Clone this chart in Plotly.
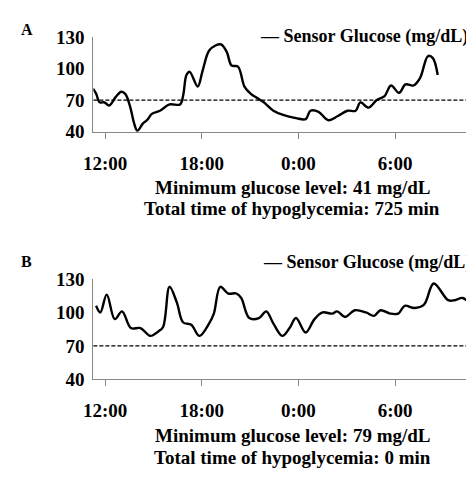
import plotly.graph_objects as go

# hours since midnight of day 1 (24 = 0:00, 30 = 6:00)
hours_a = [11.25, 11.45, 11.65, 11.95, 12.25, 12.65, 13.0, 13.25, 13.55, 13.8, 14.0, 14.35, 14.6,
           14.9, 15.4, 16.0, 16.65, 16.85, 17.05, 17.25, 17.75, 18.05, 18.45, 18.85, 19.2, 19.55,
           19.85, 20.25, 20.65, 21.05, 21.45, 21.85, 22.45, 23.05, 23.85, 24.45, 24.75, 25.25,
           25.85, 26.45, 27.05, 27.55, 27.85, 28.35, 28.85, 29.35, 29.75, 30.25, 30.65, 31.15,
           31.55, 32.05, 32.35, 32.65]
glucose_a = [81, 76, 68, 68, 65, 73, 78, 76, 64, 48, 41, 48, 51, 57, 60, 66, 66, 75, 94, 97, 83,
             98, 117, 122, 123, 116, 103, 102, 83, 76, 72, 68, 60, 56, 53, 52, 60, 59, 51, 55, 60,
             60, 68, 63, 70, 74, 84, 77, 85, 84, 91, 112, 110, 94]

hours_b = [11.44, 11.7, 12.1, 12.6, 13.05, 13.6, 14.2, 14.8, 15.3, 15.6, 16.0, 16.45, 16.85, 17.35,
           17.85, 18.45, 18.75, 19.15, 19.65, 20.15, 20.45, 20.95, 21.55, 22.0, 22.45, 23.0, 23.45,
           23.85, 24.45, 25.0, 25.5, 26.1, 26.4, 26.9, 27.5, 28.2, 28.7, 29.1, 29.7, 30.2, 30.6,
           31.2, 31.8, 32.4, 33.3, 33.7, 34.2, 34.65, 35.05]
glucose_b = [106, 100, 116, 94, 101, 86, 86, 79, 83, 87, 123, 109, 91, 89, 79, 90, 99, 123, 117,
             117, 113, 95, 95, 101, 90, 79, 86, 95, 82, 94, 100, 99, 101, 96, 102, 100, 97, 102,
             99, 99, 106, 104, 107, 126, 111, 111, 113, 108, 99]

tick_hours = [12, 18, 24, 30]
tick_labels = ["12:00", "18:00", "0:00", "6:00"]
y_ticks = [40, 70, 100, 130]
threshold = 70

FONT = "Liberation Serif"
tick_font = dict(family=FONT, size=19, color="black", weight="bold")

fig = go.Figure()
fig.add_trace(go.Scatter(x=hours_a, y=glucose_a, mode="lines", line=dict(color="black", width=2.4, shape="spline"),
                         xaxis="x", yaxis="y", showlegend=False))
fig.add_trace(go.Scatter(x=hours_b, y=glucose_b, mode="lines", line=dict(color="black", width=2.4, shape="spline"),
                         xaxis="x2", yaxis="y2", showlegend=False))

xax = dict(range=[11.27, 35.4], tickvals=tick_hours, ticktext=tick_labels, showgrid=False, zeroline=False,
           showline=True, linecolor="#888", ticks="outside", ticklen=6, tickcolor="#888",
           ticklabelstandoff=8, tickfont=tick_font)
yax = dict(range=[40, 130], tickvals=y_ticks, showgrid=False, zeroline=False, showline=True,
           linecolor="#888", ticks="", ticklabelstandoff=4, tickfont=tick_font)

fig.update_layout(
    width=474, height=478, margin=dict(l=0, r=0, t=0, b=0),
    paper_bgcolor="white", plot_bgcolor="white",
    xaxis=dict(xax, domain=[77 / 474, 1], anchor="y"),
    yaxis=dict(yax, domain=[1 - 119 / 478, 1 - 20 / 478], anchor="x"),
    xaxis2=dict(xax, domain=[77 / 474, 1], anchor="y2"),
    yaxis2=dict(yax, domain=[1 - 378 / 478, 1 - 273 / 478], anchor="x2"),
)
for xr, yr in [("x", "y"), ("x2", "y2")]:
    fig.add_shape(type="line", xref=xr + " domain", yref=yr, x0=0, x1=1, y0=threshold, y1=threshold,
                  line=dict(color="black", width=1.3, dash="4px,2px"))

def txt(x, y, s, size=19, anchor="center"):
    fig.add_annotation(x=x / 474, y=1 - y / 478, xref="paper", yref="paper", text="<b>%s</b>" % s,
                       showarrow=False, xanchor=anchor, yanchor="middle",
                       font=dict(family=FONT, size=size, color="black"))

txt(1, 12, "A", size=16, anchor="left")
txt(1, 255, "B", size=16, anchor="left")
txt(462, 19, "— Sensor Glucose (mg/dL)", size=18, anchor="right")
txt(465, 256, "— Sensor Glucose (mg/dL)", size=18, anchor="right")
txt(280, 177, "Minimum glucose level: 41 mg/dL")
txt(280, 199, "Total time of hypoglycemia: 725 min")
txt(280, 437, "Minimum glucose level: 79 mg/dL")
txt(280, 460, "Total time of hypoglycemia: 0 min")

fig.write_html("out.html")
